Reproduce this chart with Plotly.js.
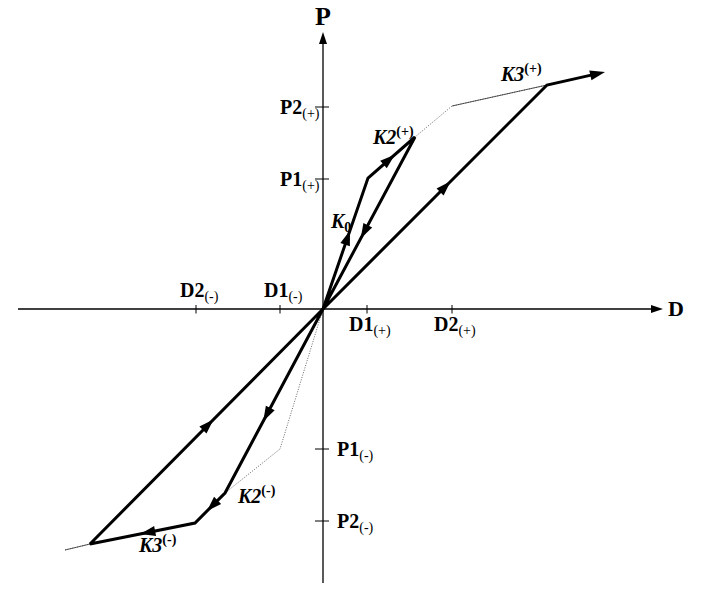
<!DOCTYPE html>
<html>
<head>
<meta charset="utf-8">
<script src="https://cdn.plot.ly/plotly-3.0.1.min.js"></script>
<style>html,body{margin:0;padding:0;background:#fff;}#chart{width:704px;height:589px;}</style>
</head>
<body>
<div id="chart"></div>
<script>
// ---- data ----
const D_TICKS = [-12.7, -4.3, 4.4, 12.9];
const D_LABELS = ['<b>D2</b><sub>(-)</sub>', '<b>D1</b><sub>(-)</sub>', '<b>D1</b><sub>(+)</sub>', '<b>D2</b><sub>(+)</sub>'];
const P_TICKS = [20.2, 13.0, -14.0, -21.2];
const P_LABELS = ['<b>P2</b><sub>(+)</sub>', '<b>P1</b><sub>(+)</sub>', '<b>P1</b><sub>(-)</sub>', '<b>P2</b><sub>(-)</sub>'];
// skeleton (envelope) curve
const skelX = [-25.8, -23.3, -12.8, -9.8, -4.3, 0, 4.5, 9.2, 12.9, 22.4];
const skelY = [-24.1, -23.5, -21.4, -18.4, -14.0, 0, 13.1, 17.2, 20.3, 22.4];
// positive-side loading path
const posX = [0, 4.5, 9.2, 0, 22.4, 28.2];
const posY = [0, 13.1, 17.2, 0, 22.4, 23.7];
const posArrowT = [0.6, 0.57, 0.59, 0.57, 1.0];
// negative-side loading path
const negX = [0, -9.8, -12.8, -23.3, 0];
const negY = [0, -18.4, -21.4, -23.5, 0];
const negArrowT = [0.61, 0.6, 0.52, 0.53];

// ---- helpers ----
const HEAD_L = 1.5, HEAD_W = 0.5;
function head(tx, ty, dx, dy, L, W) {
  const n = Math.hypot(dx, dy); const ux = dx / n, uy = dy / n;
  const bx = tx - ux * L, by = ty - uy * L;
  const px = -uy * W, py = ux * W;
  return {type: 'path', xref: 'x', yref: 'y', line: {width: 0}, fillcolor: '#000',
    path: `M${tx},${ty} L${bx + px},${by + py} L${bx - px},${by - py} Z`};
}
const shapes = [];
function pathArrows(X, Y, T) {
  const lx = X.slice(), ly = Y.slice();
  for (let i = 0; i < T.length; i++) {
    const dx = X[i + 1] - X[i], dy = Y[i + 1] - Y[i];
    const tx = X[i] + dx * T[i], ty = Y[i] + dy * T[i];
    shapes.push(head(tx, ty, dx, dy, HEAD_L, HEAD_W));
    if (T[i] >= 1 && i === T.length - 1) {
      const n = Math.hypot(dx, dy);
      lx[i + 1] = tx - dx / n * (HEAD_L - 0.3);
      ly[i + 1] = ty - dy / n * (HEAD_L - 0.3);
    }
  }
  return [lx, ly];
}
const [pX, pY] = pathArrows(posX, posY, posArrowT);
const [nX, nY] = pathArrows(negX, negY, negArrowT);

// axes
const AX = {xmin: -30.5, xmax: 34.0, ymin: -27.4, ymax: 27.7};
shapes.push({type: 'line', xref: 'x', yref: 'y', x0: AX.xmin, y0: 0, x1: AX.xmax - 1.0, y1: 0, line: {color: '#000', width: 1.3}});
shapes.push({type: 'line', xref: 'x', yref: 'y', x0: 0, y0: AX.ymin, x1: 0, y1: AX.ymax - 1.0, line: {color: '#000', width: 1.3}});
shapes.push(head(AX.xmax, 0, 1, 0, 1.2, 0.4));
shapes.push(head(0, AX.ymax, 0, 1, 1.2, 0.4));
D_TICKS.forEach(d => shapes.push({type: 'line', xref: 'x', yref: 'y', x0: d, x1: d, y0: 0.4, y1: -0.45, line: {color: '#000', width: 1}}));
P_TICKS.forEach(p => shapes.push({type: 'line', xref: 'x', yref: 'y', y0: p, y1: p, x0: -0.8, x1: 0.6, line: {color: '#000', width: 1}}));

const FONT = {family: 'Liberation Serif, Times New Roman, serif', size: 20, color: '#000'};
const annotations = [];
D_TICKS.forEach((d, i) => annotations.push({x: d, y: 0, xref: 'x', yref: 'y', text: D_LABELS[i],
  showarrow: false, font: FONT, xanchor: 'center', xshift: 3, yanchor: d < 0 ? 'bottom' : 'top', yshift: d < 0 ? 2 : -2}));
P_TICKS.forEach((p, i) => annotations.push({x: 0, y: p, xref: 'x', yref: 'y', text: P_LABELS[i],
  showarrow: false, font: FONT, xanchor: p > 0 ? 'right' : 'left', xshift: p > 0 ? -1 : 12, yanchor: 'middle', yshift: -2}));
annotations.push({x: 0, y: AX.ymax, xref: 'x', yref: 'y', text: '<b>P</b>', showarrow: false, font: Object.assign({}, FONT, {size: 26}), yanchor: 'bottom', yshift: -1});
annotations.push({x: AX.xmax, y: 0, xref: 'x', yref: 'y', text: '<b>D</b>', showarrow: false, font: Object.assign({}, FONT, {size: 22}), xanchor: 'left', xshift: 3, yshift: 1});
function klab(txt, x, y, sx, sy) {
  annotations.push({x: x, y: y, xref: 'x', yref: 'y', text: txt, showarrow: false, font: FONT, xshift: sx, yshift: sy});
}
klab('<b><i>K3</i><sup>(+)</sup></b>', posX[4], posY[4], -26, 12);
klab('<b><i>K2</i><sup>(+)</sup></b>', posX[2], posY[2], -22, 1);
klab('<b><i>K</i><sub>0</sub></b>', posX[1], posY[1], -28, -44);
klab('<b><i>K2</i><sup>(-)</sup></b>', negX[1], negY[1], 31, -2);
klab('<b><i>K3</i><sup>(-)</sup></b>', negX[2], negY[2], -38, -21);

const traces = [
  {x: skelX, y: skelY, mode: 'lines', line: {color: '#666', width: 1, dash: '1px,1.5px'}, hoverinfo: 'skip'},
  {x: skelX.slice(0, 2).concat([null], skelX.slice(8, 10)), y: skelY.slice(0, 2).concat([null], skelY.slice(8, 10)),
   mode: 'lines', line: {color: '#333', width: 0.8}, connectgaps: false, hoverinfo: 'skip'},
  {x: pX, y: pY, mode: 'lines', line: {color: '#000', width: 3}, hoverinfo: 'skip'},
  {x: nX, y: nY, mode: 'lines', line: {color: '#000', width: 3}, hoverinfo: 'skip'}
];

const layout = {
  width: 704, height: 589, margin: {l: 0, r: 0, t: 0, b: 0, pad: 0},
  paper_bgcolor: '#fff', plot_bgcolor: '#fff', showlegend: false,
  xaxis: {range: [-32.3, 38.1], visible: false, fixedrange: true},
  yaxis: {range: [-28.0, 30.9], visible: false, fixedrange: true},
  shapes: shapes, annotations: annotations
};
Plotly.newPlot('chart', traces, layout, {staticPlot: true, displayModeBar: false});
</script>
</body>
</html>
